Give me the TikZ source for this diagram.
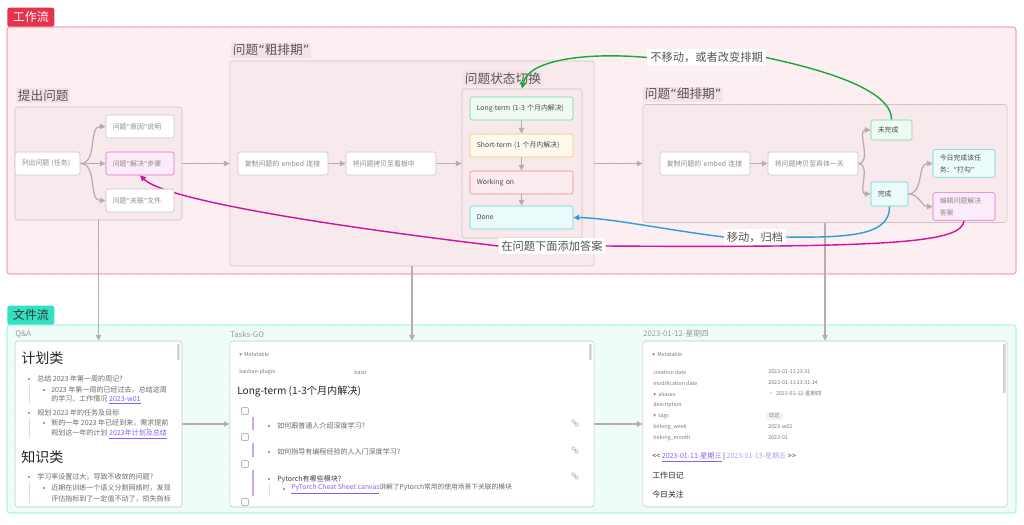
\documentclass[tikz,border=0pt]{standalone}
\usepackage{fontspec}
\setmainfont{Noto Sans CJK SC}
\newfontfamily\symf{DejaVu Sans}
\usepackage{tikz}
\usetikzlibrary{arrows.meta}
\definecolor{wfline}{HTML}{E96C80}
\definecolor{wffill}{HTML}{FCEFF2}
\definecolor{wftag}{HTML}{E5334B}
\definecolor{ffline}{HTML}{7BEAD8}
\definecolor{fffill}{HTML}{EFFDF9}
\definecolor{fftag}{HTML}{33E0C4}
\definecolor{grpline}{HTML}{CBC3C5}
\definecolor{grpfill}{HTML}{F7E9EC}
\definecolor{grplab}{HTML}{F3E2E6}
\definecolor{cardline}{HTML}{C9C2C4}
\definecolor{cardtext}{HTML}{8A8A8A}
\definecolor{pinkline}{HTML}{E46ACF}
\definecolor{pinkfill}{HTML}{FCEBF8}
\definecolor{greenline}{HTML}{78D99B}
\definecolor{greenfill}{HTML}{EEFAF2}
\definecolor{yellowline}{HTML}{EFCB6A}
\definecolor{yellowfill}{HTML}{FEF9EE}
\definecolor{redline}{HTML}{E8858F}
\definecolor{redfill}{HTML}{FBEDEF}
\definecolor{cyanline}{HTML}{66D6D3}
\definecolor{cyanfill}{HTML}{EBFAFA}
\definecolor{flowgray}{HTML}{B6ADAF}
\definecolor{greenc}{HTML}{18A83A}
\definecolor{bluec}{HTML}{2B9ED8}
\definecolor{magc}{HTML}{D4109F}
\definecolor{linkpurple}{HTML}{8B5CF6}
\definecolor{barpurple}{HTML}{C9A6F0}
\definecolor{panelline}{HTML}{C4C4C4}
\definecolor{titlegray}{HTML}{555555}
\definecolor{bodygray}{HTML}{6A6A6A}
\definecolor{metagray}{HTML}{7A7A7A}
\definecolor{dotc}{HTML}{DFD6D8}
\pgfdeclarelayer{back}
\pgfdeclarelayer{wires}
\pgfsetlayers{back,wires,main}
\newcommand{\fsz}[1]{\fontsize{#1}{#1}\selectfont}
\newcommand{\lnk}[1]{\textcolor{linkpurple}{\underline{#1}}}
\newcommand{\qq}[1]{{\symf “}#1{\symf ”}}

\begin{document}
\begin{tikzpicture}[x=0.025cm, y=-0.025cm, >={Triangle[length=4.2pt,width=3.8pt]}, line width=0.7pt,
  card/.style={draw=cardline, fill=white, rounded corners=1.5pt, text=cardtext, font=\fsz{4.9}, align=left, inner xsep=0.17cm, minimum height=0.575cm, text width=#1},
  cpink/.style={draw=pinkline, fill=pinkfill},
  cgreen/.style={draw=greenline, fill=greenfill, text=black!70},
  cyellow/.style={draw=yellowline, fill=yellowfill, text=black!70},
  cred/.style={draw=redline, fill=redfill, text=black!70},
  ccyan/.style={draw=cyanline, fill=cyanfill, text=black!70},
  grp/.style={draw=grpline, fill=grpfill, rounded corners=2pt, inner sep=0pt},
  grptitle/.style={fill=grplab, text=titlegray, font=\fsz{9}, inner sep=1.2pt, anchor=south west},
  panel/.style={draw=panelline, fill=white, rounded corners=2pt, inner sep=0pt, minimum height=4.15cm},
  flow/.style={->, draw=flowgray, line width=0.9pt},
  note/.style={fill=white, text=titlegray, font=\fsz{8}, inner sep=2pt},
  tagbox/.style={rounded corners=1.5pt, font=\fsz{8.5}, anchor=south west, minimum width=1.175cm, minimum height=0.475cm, inner sep=1pt},
  txt/.style={anchor=west, inner sep=0pt, text=bodygray, font=\fsz{5}},
  meta/.style={anchor=west, inner sep=0pt, text=metagray, font=\fsz{3.8}}]

\useasboundingbox (0,0) rectangle (1024,525);

\begin{pgfonlayer}{back}
  \fill[white] (0,0) rectangle (1024,525);
  \draw[draw=wfline, fill=wffill, rounded corners=2pt] (7,27) rectangle (1016,274);
  \draw[draw=ffline, fill=fffill, rounded corners=2pt] (7,325) rectangle (1016,513);
  \node[grp, minimum width=4.175cm, minimum height=2.825cm] (g1) at (98.5,163.5) {};
  \node[grp, minimum width=9.1cm, minimum height=5.125cm] (g2) at (412,163.5) {};
  \node[grp, minimum width=3cm, minimum height=3.725cm] (sg) at (522,163.5) {};
  \node[grp, minimum width=9.1cm, minimum height=2.95cm] (g3) at (825,163.5) {};
  \foreach \i in {0,...,61}
    \foreach \j in {0,...,31}
      \fill[dotc] (13+\i*16.6, 12+\j*16.6) circle (0.3pt);
  \node[grptitle] (g1t) at (16,103) {提出问题};
  \node[grptitle] (g2t) at (231,58) {问题\qq{粗排期}};
  \node[grptitle] (sgt) at (463,86) {问题状态切换};
  \node[grptitle] (g3t) at (643,102) {问题\qq{细排期}};
  \node[panel, minimum width=4.175cm] (qa) at (98.5,424) {};
  \node[panel, minimum width=9.1cm] (tk) at (412,424) {};
  \node[panel, minimum width=9.1cm] (dr) at (825,424) {};
\end{pgfonlayer}

\node[tagbox, fill=wftag, text=white] (wftag) at (7,27) {工作流};
\node[tagbox, fill=fftag, text=black!80] (fftag) at (7,325) {文件流};

\node[card=1.285cm] (lc) at (47.5,163.5) {\mbox{列出问题 (任务)}};
\node[card=1.36cm] (yy) at (140,126.5) {问题\qq{原因}说明};
\node[card=1.36cm, cpink] (jj) at (140,163.5) {问题\qq{解决}步骤};
\node[card=1.36cm] (gl) at (140,200.5) {问题\qq{关联}文件};
\node[card=1.91cm] (fz1) at (283,163.5) {\mbox{复制问题的 embed 连接}};
\node[card=1.91cm] (kb) at (391,163.5) {将问题拷贝至看板中};
\node[card=2.235cm, cgreen] (lt) at (521.5,108.5) {\mbox{Long-term (1-3 个月内解决)}};
\node[card=2.235cm, cyellow] (st) at (521.5,145.5) {\mbox{Short-term (1 个月内解决)}};
\node[card=2.235cm, cred] (wo) at (521.5,182.5) {Working on};
\node[card=2.235cm, ccyan] (dn) at (521.5,217.5) {Done};
\node[card=1.91cm] (fz2) at (705,163.5) {\mbox{复制问题的 embed 连接}};
\node[card=1.91cm] (jt) at (813,163.5) {将问题拷贝至具体一天};
\node[card=0.685cm, cgreen, minimum height=0.5cm] (wwc) at (891.5,130) {未完成};
\node[card=0.585cm, ccyan, minimum height=0.6cm] (wc) at (889.5,194) {完成};
\node[card=1.21cm, ccyan, font=\fontsize{4.9}{8.5}\selectfont] (jr) at (964,163.5) {今日完成该任\\务：\qq{打勾}};
\node[card=1.21cm, cpink, font=\fontsize{4.9}{8.5}\selectfont] (bj) at (964,206.5) {编辑问题解决\\答案};

\node[note] (lbg) at (706.5,57.5) {不移动，或者改变排期};
\node[note] (lbb) at (755,237) {移动，归档};
\node[note] (lbm) at (552,246) {在问题下面添加答案};

\begin{pgfonlayer}{wires}
  \draw[flow] (lc.east) to[out=0,in=180] (yy.west);
  \draw[flow] (lc.east) -- (jj.west);
  \draw[flow] (lc.east) to[out=0,in=180] (gl.west);
  \draw[flow] (g1.east) -- (g2.west);
  \draw[flow] (fz1) -- (kb);
  \draw[flow] (kb.east) -- (sg.west);
  \draw[flow] (lt) -- (st);
  \draw[flow] (st) -- (wo);
  \draw[flow] (wo) -- (dn);
  \draw[flow] (g2.east) -- (g3.west);
  \draw[flow] (fz2) -- (jt);
  \draw[flow] (jt.east) to[out=0,in=180] (wwc.west);
  \draw[flow] (jt.east) to[out=0,in=180] (wc.west);
  \draw[flow] (wc.east) to[out=0,in=180] (jr.west);
  \draw[flow] (wc.east) to[out=0,in=180] (bj.west);
  \draw[flow] (g1.south) -- (qa.north);
  \draw[flow] (g2.south) -- (tk.north);
  \draw[flow] (g3.south) -- (dr.north);
  \draw[flow] (qa.east) -- (tk.west);
  \draw[flow] (tk.east) -- (dr.west);
  \draw[greenc, line width=1pt] (wwc.north) .. controls (892,88) and (815,68) .. (lbg.east);
  \draw[greenc, line width=1pt, ->] (lbg.west) .. controls (585,52) and (528,60) .. (sg.north);
  \draw[bluec, line width=1pt] (wc.south) .. controls (890,234) and (855,238) .. (lbb.east);
  \draw[bluec, line width=1pt, ->] (lbb.west) .. controls (660,229) and (610,218) .. (dn.east);
  \draw[magc, line width=1pt] (bj.south) .. controls (962,242) and (900,248) .. (lbm.east);
  \draw[magc, line width=1pt, ->] (lbm.west) .. controls (330,226) and (165,200) .. (jj.south);
\end{pgfonlayer}

\node[txt, text=gray!80, font=\fsz{5.5}] (qat) at (15,334) {Q\&A};
\node[txt, text=black!85, font=\fsz{10}] (qah1) at (21,358) {计划类};
\node[txt] (qa1) at (37,379) {总结 2023 年第一周的周记?};
\node[txt] (qa2) at (51,390) {2023 年第一周的已经过去，总结这周};
\node[txt] (qa3) at (51,400) {的学习、工作情况 \lnk{2023-w01}};
\node[txt] (qa4) at (37,413) {规划 2023 年的任务及目标};
\node[txt] (qa5) at (51,423) {新的一年 2023 年已经到来，需求提前};
\node[txt] (qa6) at (51,434) {规划这一年的计划 \lnk{2023年计划及总结}};
\node[txt, text=black!85, font=\fsz{10}] (qah2) at (21,457) {知识类};
\node[txt] (qa7) at (37,477) {学习率设置过大，导致不收敛的问题?};
\node[txt] (qa8) at (51,488) {近期在训练一个语义分割网络时，发现};
\node[txt] (qa9) at (51,499) {评估指标到了一定值不动了，损失指标};
\foreach \x/\y in {29/379, 44/390, 29/413, 44/423, 29/477, 44/488}
  \fill[black!75] (\x,\y) circle (0.7pt);
\foreach \a/\b in {385/404, 418/438, 482/503}
  \draw[gray!25, line width=0.4pt] (29,\a) -- (29,\b);
\fill[gray!35, rounded corners=0.5pt] (177,344) rectangle (179.5,360);

\node[txt, text=gray!80, font=\fsz{5.5}] (tkt) at (230,334) {Tasks-GO};
\node[meta] (tkm) at (239,354) {{\symf ▾}\ \ Metatable};
\node[meta] (tkk) at (239,372) {kanban-plugin};
\node[meta] (tkb) at (354,372) {basic};
\node[txt, text=black!85, font=\fsz{7.2}] (tkh) at (237,392) {Long-term (1-3个月内解决)};
\foreach \y in {411,437,464,502}
  \draw[gray!55, line width=0.4pt, rounded corners=0.8pt] (241.5,\y-3.5) rectangle (248.5,\y+3.5);
\foreach \a/\b in {417/430, 443/457, 470/496}
  \fill[barpurple] (251.5,\a) rectangle (253.5,\b);
\foreach \y in {426,452,479}
  \fill[black!75] (269,\y) circle (0.7pt);
\fill[black!75] (284,489) circle (0.6pt);
\draw[gray!25, line width=0.4pt] (269,483) -- (269,495);
\node[txt] (tk1) at (277,426) {如何跟普通人介绍深度学习?};
\node[txt] (tk2) at (277,452) {如何指导有编程经验的人入门深度学习?};
\node[txt, text=black!75] (tk3) at (277,479) {Pytorch有哪些模块?};
\node[txt, font=\fsz{4.8}] (tk4) at (291,489) {\lnk{PyTorch Cheat Sheet.canvas}讲解了Pytorch常用的使用场景下关联的模块};
\foreach \y in {423,450,476} {
  \draw[gray!60, line width=0.45pt, rotate around={-45:(575,\y)}] (573,\y) ellipse (2.3 and 1.3);
  \draw[gray!60, line width=0.45pt, rotate around={-45:(575,\y)}] (577,\y) ellipse (2.3 and 1.3);
}
\fill[gray!35, rounded corners=0.5pt] (589,344) rectangle (591.5,360);

\node[txt, text=gray!80, font=\fsz{5.5}] (drt) at (643,334) {2023-01-12-星期四};
\node[meta] (drm) at (652,354) {{\symf ▾}\ \ Metatable};
\foreach \k/\y/\l/\r in {1/372/{creation date}/{2023-01-11 23:31},
    2/383/{modification date}/{2023-01-11 23:31:14},
    3/394/{{\symf ▾}\ \ aliases}/{•\ \ 2023-01-12-星期四},
    4/405/{description}/{},
    5/416/{{\symf ▾}\ \ tags}/{},
    6/427/{belong\_week}/{2023-w02},
    7/438/{belong\_month}/{2023-01}} {
  \node[meta] (ml\k) at (653,\y) {\l};
  \node[meta] (mr\k) at (768,\y) {\r};
}
\node[meta, fill=gray!10, rounded corners=2pt, inner xsep=2.5pt, inner ysep=1pt] (pill) at (765,416) {日记};
\node[txt, text=black!80] (nav) at (652,457) {<\kern0.2pt< \lnk{2023-01-11-星期三} | \textcolor{linkpurple!60}{2023-01-13-星期五} >\kern0.2pt>};
\node[txt, text=black!85, font=\fsz{5.6}] (dh1) at (652,476) {工作日记};
\node[txt, text=black!85, font=\fsz{5.6}] (dh2) at (652,494) {今日关注};
\fill[gray!35, rounded corners=0.5pt] (1003,344) rectangle (1005.5,393);
\end{tikzpicture}
\end{document}
